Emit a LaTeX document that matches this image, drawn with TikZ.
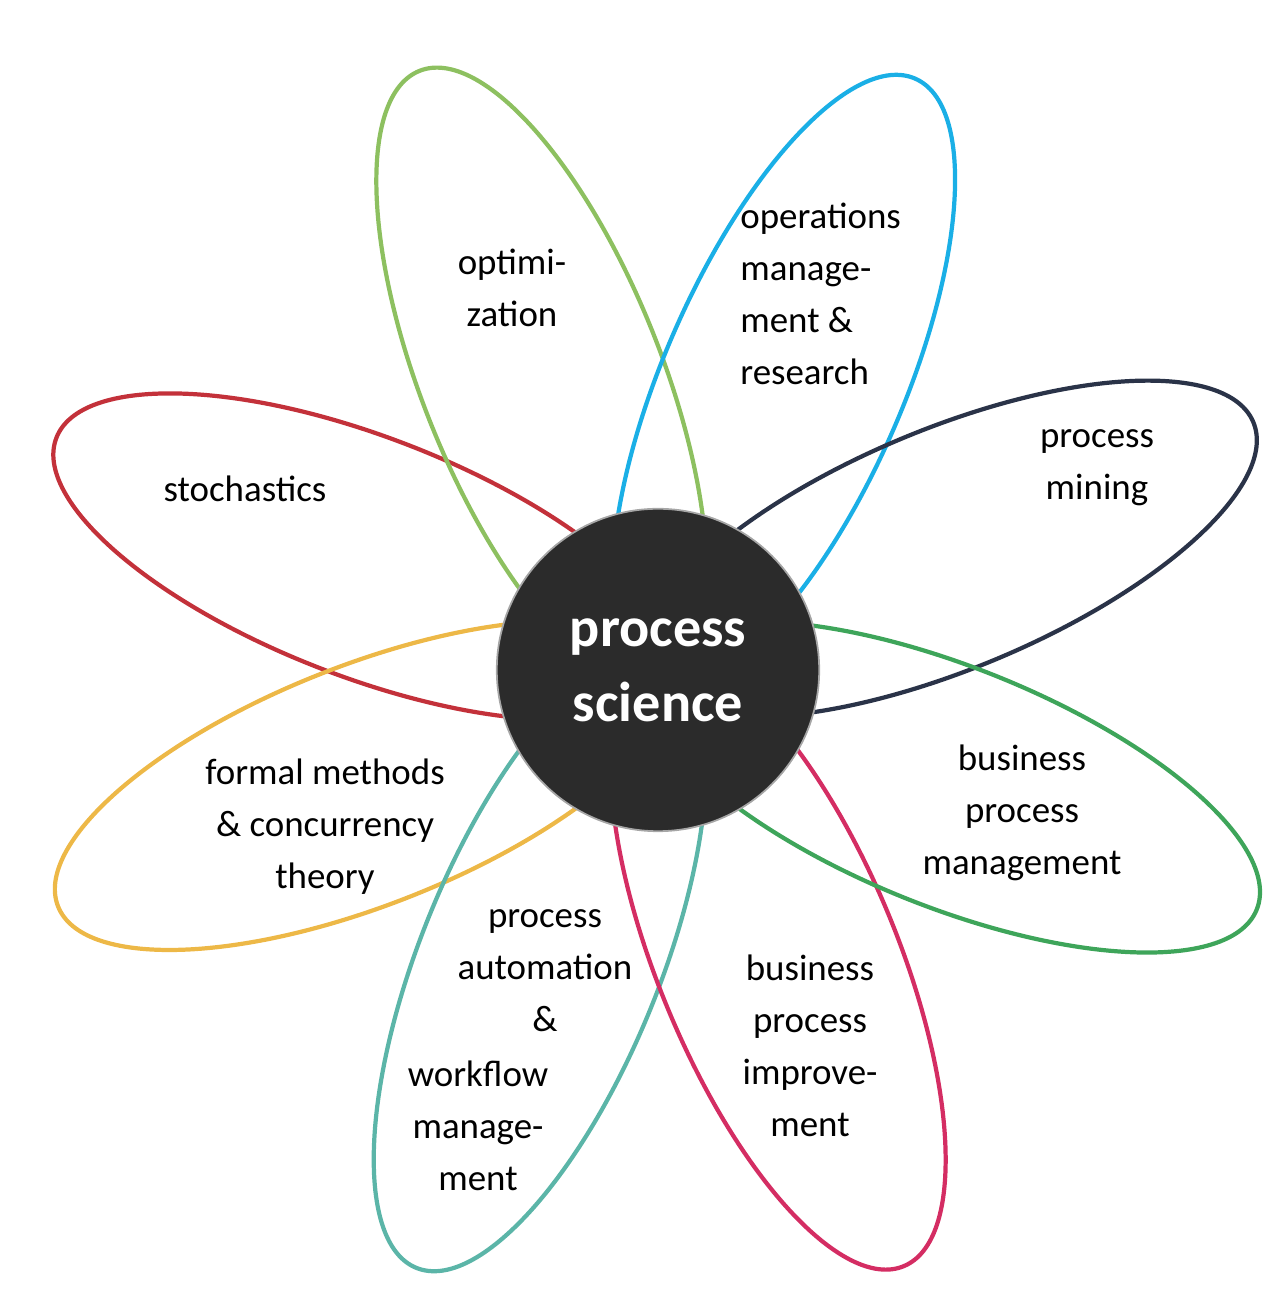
\documentclass[tikz,border=0pt]{standalone}
\usepackage{fontspec}
\setmainfont{Carlito}
\usetikzlibrary{calc}
\definecolor{cOpt}{HTML}{8DC060}
\definecolor{cOps}{HTML}{1AAFE6}
\definecolor{cMin}{HTML}{2A3348}
\definecolor{cBpm}{HTML}{3EA55A}
\definecolor{cImp}{HTML}{D42D63}
\definecolor{cAut}{HTML}{5BB5A8}
\definecolor{cFor}{HTML}{EDB847}
\definecolor{cSto}{HTML}{C3313A}
\definecolor{cCore}{HTML}{2B2B2B}
\begin{document}
\begin{tikzpicture}[x=0.02cm,y=0.02cm,
  petal/.style={line width=2.4pt},
  lbl/.style={font=\fontsize{21}{29.6}\selectfont, align=center, inner sep=0pt},
  core/.style={circle, fill=cCore, draw=gray!70, line width=1pt, minimum size=6.45cm,
     text=white, font=\bfseries\fontsize{32}{42.7}\selectfont, align=center}]
\useasboundingbox (0,0) rectangle (1278,1308);
\coordinate (C) at (658,638);
\foreach \ang/\col in {158.9/cSto, 201.5/cFor, 111.7/cOpt, -112/cAut, 66.5/cOps, -67.6/cImp, 22.6/cMin, -21.8/cBpm}{
  \draw[petal, \col, shift={($(C)+(\ang:6.3cm)$)}, rotate=\ang] (0,0) ellipse (6.6cm and 2.4cm);
}
\node[core] (ps) at (C) {process\\science};
\node[lbl] (opt) at (512,1020) {optimi-\\zation};
\node[lbl, anchor=west, align=left] (ops) at (740,1014) {operations\\manage-\\ment \&\\research};
\node[lbl] (min) at (1097,840) {process\\mining};
\node[lbl] (sto) at (245,819) {stochastics};
\node[lbl] (for) at (325,481) {formal methods\\\& concurrency\\theory};
\node[lbl] (bpm) at (1022,495) {business\\process\\management};
\node[lbl] (aut) at (545,337) {process\\automation\\\&};
\node[lbl] (wfm) at (478,182) {workflow\\manage-\\ment};
\node[lbl] (imp) at (810,262) {business\\process\\improve-\\ment};
\end{tikzpicture}
\end{document}
